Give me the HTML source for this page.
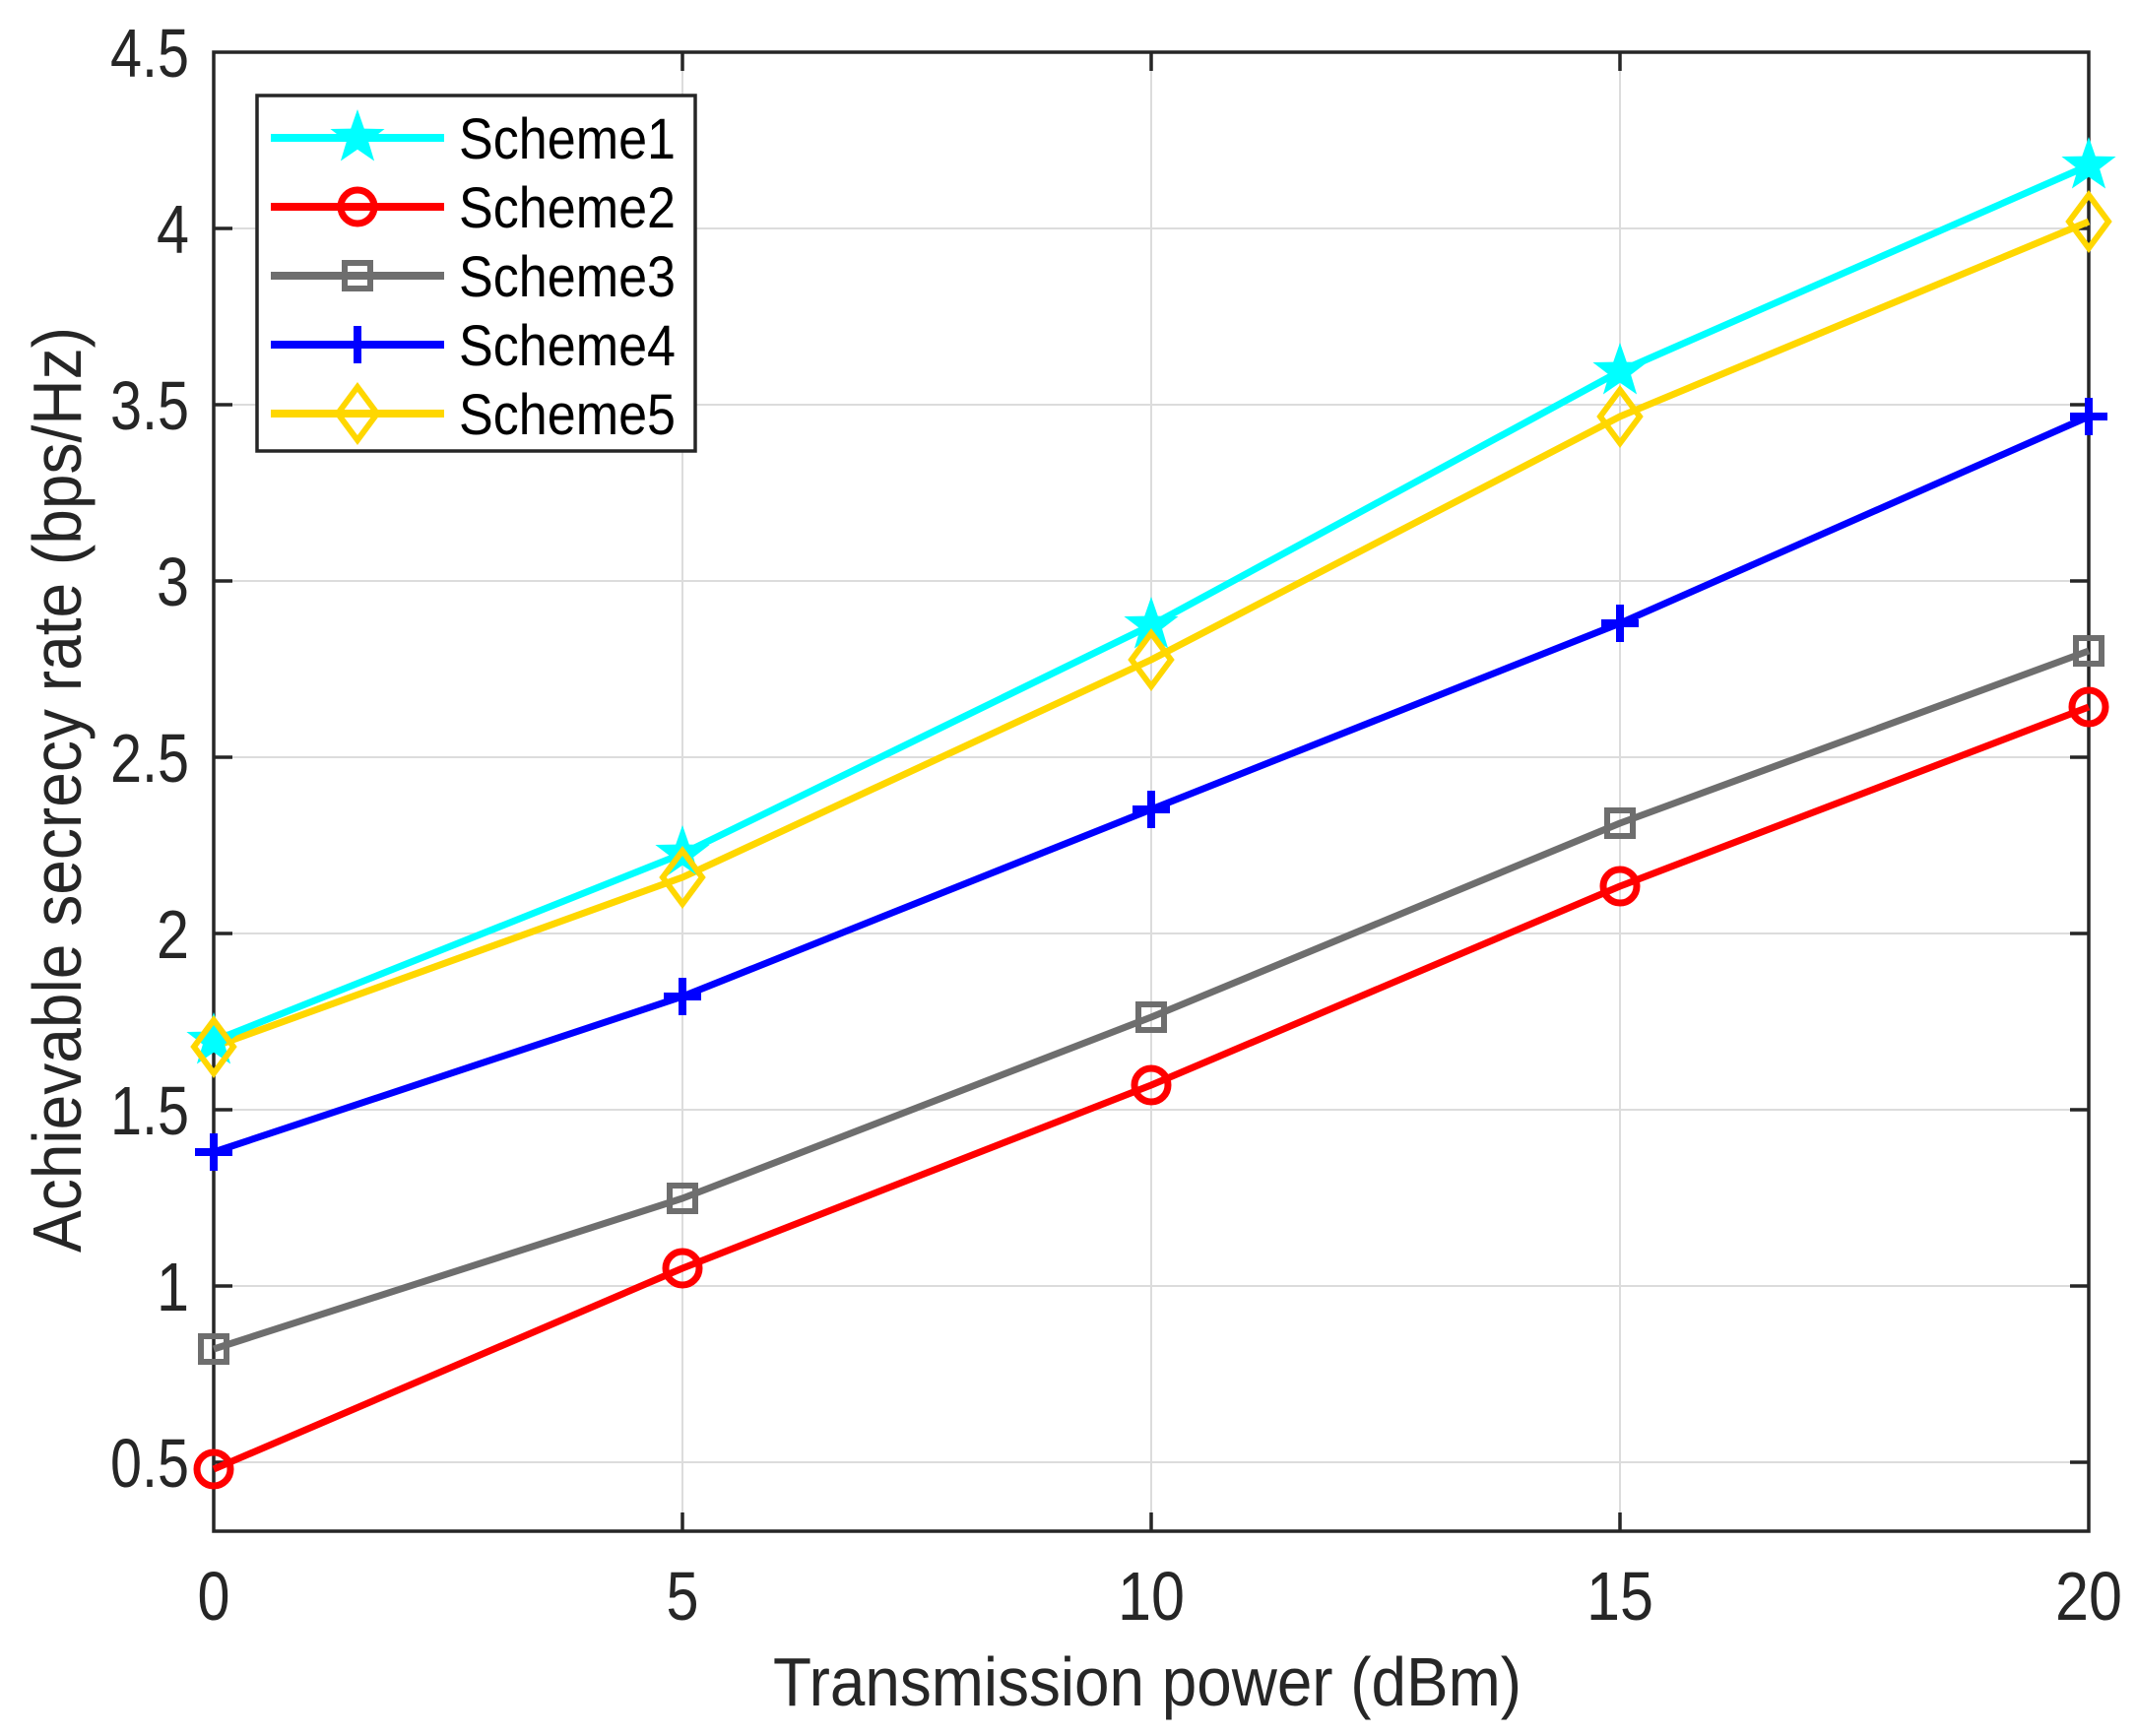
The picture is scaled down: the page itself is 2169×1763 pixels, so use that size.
<!DOCTYPE html>
<html><head><meta charset="utf-8"><style>html,body{margin:0;padding:0;background:#fff}svg{display:block}</style></head><body>
<svg width="2169" height="1763" viewBox="0 0 2169 1763" xmlns="http://www.w3.org/2000/svg" font-family="Liberation Sans, sans-serif" fill="#262626">
<defs>
<g id="star"><polygon points="0,-29 6.8,-9.4 27.6,-9 11.1,3.6 17.1,23.5 0,11.7 -17.1,23.5 -11.1,3.6 -27.6,-9 -6.8,-9.4" fill="#00FFFF"/></g>
<g id="circ"><circle r="17" fill="none" stroke="#FF0000" stroke-width="7"/></g>
<g id="sq"><rect x="-13" y="-13" width="26" height="26" fill="none" stroke="#6E6E6E" stroke-width="6"/></g>
<g id="plus"><path d="M-19,0H19M0,-19V19" stroke="#0000FF" stroke-width="8"/></g>
<g id="dia"><polygon points="0,-27 20,0 0,27 -20,0" fill="none" stroke="#FFD700" stroke-width="6"/></g>
</defs>
<rect width="2169" height="1763" fill="#fff"/>
<g stroke="#dcdcdc" stroke-width="2">
<line x1="693" y1="53" x2="693" y2="1555"/><line x1="1169" y1="53" x2="1169" y2="1555"/><line x1="1645" y1="53" x2="1645" y2="1555"/>
<line x1="217" y1="232" x2="2121" y2="232"/><line x1="217" y1="411" x2="2121" y2="411"/><line x1="217" y1="590" x2="2121" y2="590"/><line x1="217" y1="769" x2="2121" y2="769"/><line x1="217" y1="948" x2="2121" y2="948"/><line x1="217" y1="1127" x2="2121" y2="1127"/><line x1="217" y1="1306" x2="2121" y2="1306"/><line x1="217" y1="1485" x2="2121" y2="1485"/>
</g>
<g stroke="#262626" stroke-width="3.5">
<rect x="217" y="53" width="1904" height="1502" fill="none"/>
<path d="M693,1555v-19M1169,1555v-19M1645,1555v-19M693,53v19M1169,53v19M1645,53v19"/>
<path d="M217,232h19M217,411h19M217,590h19M217,769h19M217,948h19M217,1127h19M217,1306h19M217,1485h19"/>
<path d="M2121,232h-19M2121,411h-19M2121,590h-19M2121,769h-19M2121,948h-19M2121,1127h-19M2121,1306h-19M2121,1485h-19"/>
</g>
<g font-size="70" text-anchor="middle">
<text x="217" y="1645" textLength="33" lengthAdjust="spacingAndGlyphs">0</text><text x="693" y="1645" textLength="33" lengthAdjust="spacingAndGlyphs">5</text><text x="1169" y="1645" textLength="68" lengthAdjust="spacingAndGlyphs">10</text><text x="1645" y="1645" textLength="68" lengthAdjust="spacingAndGlyphs">15</text><text x="2121" y="1645" textLength="68" lengthAdjust="spacingAndGlyphs">20</text>
</g>
<g font-size="70" text-anchor="end">
<text x="192" y="78" textLength="80" lengthAdjust="spacingAndGlyphs">4.5</text><text x="192" y="257" textLength="33" lengthAdjust="spacingAndGlyphs">4</text><text x="192" y="436" textLength="80" lengthAdjust="spacingAndGlyphs">3.5</text><text x="192" y="615" textLength="33" lengthAdjust="spacingAndGlyphs">3</text><text x="192" y="794" textLength="80" lengthAdjust="spacingAndGlyphs">2.5</text><text x="192" y="973" textLength="33" lengthAdjust="spacingAndGlyphs">2</text><text x="192" y="1152" textLength="80" lengthAdjust="spacingAndGlyphs">1.5</text><text x="192" y="1331" textLength="33" lengthAdjust="spacingAndGlyphs">1</text><text x="192" y="1510" textLength="80" lengthAdjust="spacingAndGlyphs">0.5</text>
</g>
<text x="1165" y="1732" font-size="70" text-anchor="middle" textLength="760" lengthAdjust="spacingAndGlyphs">Transmission power (dBm)</text>
<text transform="translate(82,802) rotate(-90)" font-size="70" text-anchor="middle" textLength="940" lengthAdjust="spacingAndGlyphs">Achievable secrecy rate (bps/Hz)</text>
<g fill="none" stroke-width="7" stroke-linejoin="round">
<polyline stroke="#FF0000" points="217,1492 693,1288 1169,1102 1645,900 2121,718"/>
<polyline stroke="#6E6E6E" points="217,1370 693,1217 1169,1033 1645,836 2121,661"/>
<polyline stroke="#0000FF" points="217,1170 693,1012 1169,822 1645,633 2121,423"/>
<polyline stroke="#FFD700" points="217,1063 693,891 1169,670 1645,423 2121,225"/>
<polyline stroke="#00FFFF" points="217,1057 693,867 1169,635 1645,377 2121,168"/>
</g>
<g>
<use href="#circ" x="217" y="1492"/><use href="#circ" x="693" y="1288"/><use href="#circ" x="1169" y="1102"/><use href="#circ" x="1645" y="900"/><use href="#circ" x="2121" y="718"/>
<use href="#sq" x="217" y="1370"/><use href="#sq" x="693" y="1217"/><use href="#sq" x="1169" y="1033"/><use href="#sq" x="1645" y="836"/><use href="#sq" x="2121" y="661"/>
<use href="#plus" x="217" y="1170"/><use href="#plus" x="693" y="1012"/><use href="#plus" x="1169" y="822"/><use href="#plus" x="1645" y="633"/><use href="#plus" x="2121" y="423"/>
<use href="#star" x="217" y="1057"/><use href="#star" x="693" y="867"/><use href="#star" x="1169" y="635"/><use href="#star" x="1645" y="377"/><use href="#star" x="2121" y="168"/>
<use href="#dia" x="217" y="1063"/><use href="#dia" x="693" y="891"/><use href="#dia" x="1169" y="670"/><use href="#dia" x="1645" y="423"/><use href="#dia" x="2121" y="225"/>
</g>
<rect x="261" y="97" width="445" height="361" fill="#fff" stroke="#262626" stroke-width="3.5"/>
<g stroke-width="8">
<line x1="275" y1="140" x2="451" y2="140" stroke="#00FFFF"/>
<line x1="275" y1="210" x2="451" y2="210" stroke="#FF0000"/>
<line x1="275" y1="280" x2="451" y2="280" stroke="#6E6E6E"/>
<line x1="275" y1="350" x2="451" y2="350" stroke="#0000FF"/>
<line x1="275" y1="420" x2="451" y2="420" stroke="#FFD700"/>
</g>
<use href="#star" x="363" y="140"/><use href="#circ" x="363" y="210"/><use href="#sq" x="363" y="280"/><use href="#plus" x="363" y="350"/><use href="#dia" x="363" y="420"/>
<g font-size="58" fill="#000">
<text x="466" y="161" textLength="220" lengthAdjust="spacingAndGlyphs">Scheme1</text><text x="466" y="231" textLength="220" lengthAdjust="spacingAndGlyphs">Scheme2</text><text x="466" y="301" textLength="220" lengthAdjust="spacingAndGlyphs">Scheme3</text><text x="466" y="371" textLength="220" lengthAdjust="spacingAndGlyphs">Scheme4</text><text x="466" y="441" textLength="220" lengthAdjust="spacingAndGlyphs">Scheme5</text>
</g>
</svg>
</body></html>
